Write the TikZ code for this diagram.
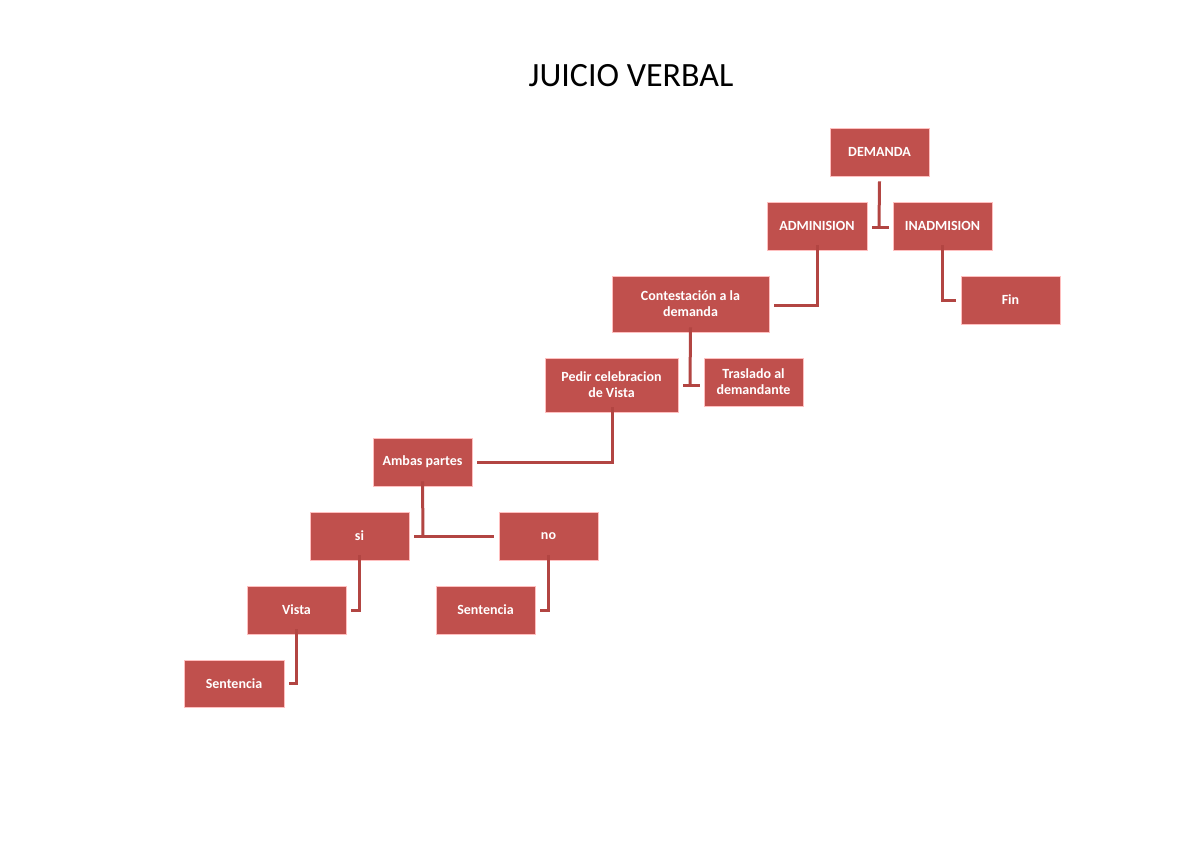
\documentclass[tikz,border=0pt]{standalone}
\usepackage{fontspec}
\setmainfont{Carlito}
\begin{document}
\begin{tikzpicture}[x=1pt,y=-1pt,
  box/.style={draw=red!25!white,line width=0.8pt,fill=boxc,text=white,font=\bfseries\fontsize{14}{16}\selectfont,align=center,inner sep=0pt},
  ln/.style={draw=linec,line width=3pt}]
\definecolor{boxc}{HTML}{C0504D}
\definecolor{linec}{HTML}{B24542}
\useasboundingbox[fill=white] (0,0) rectangle (1200,849);
\node[font=\fontsize{34}{40}\selectfont] (title) at (631,76) {JUICIO VERBAL};
\newcommand{\bx}[6]{\node[box,minimum width=#4-#2,minimum height=#5-#3] (#1) at ({(#2+#4)/2},{(#3+#5)/2}) {#6};}
\bx{dem}{830}{128}{929}{176}{DEMANDA}
\bx{adm}{767}{202}{867}{250}{ADMINISION}
\bx{inad}{893}{202}{992}{250}{INADMISION}
\bx{cont}{612}{276}{769}{332}{Contestación a la\\demanda}
\bx{fin}{961}{276}{1060}{324}{Fin}
\bx{ped}{545}{358}{678}{412}{Pedir celebracion\\de Vista}
\bx{tras}{704}{358}{803}{406}{Traslado al\\demandante}
\bx{amb}{373}{438}{472}{486}{Ambas partes}
\bx{si}{310}{512}{409}{560}{si}
\bx{no}{499}{512}{598}{560}{no}
\bx{vis}{247}{586}{346}{634}{Vista}
\bx{sen1}{184}{660}{284}{707}{Sentencia}
\bx{sen2}{436}{586}{535}{634}{Sentencia}
\coordinate (j1) at (879,227);
\draw[ln] (dem.south) ++(0,5) -- (j1);
\draw[ln] ([xshift=5pt]adm.east |- j1) -- ([xshift=-4pt]inad.west |- j1);
\draw[ln] ([yshift=5pt]adm.south) |- ([xshift=5pt]cont.east |- 0,305);
\draw[ln] ([yshift=5pt]inad.south) |- ([xshift=-5pt]fin.west);
\coordinate (j2) at (690,385);
\draw[ln] ([yshift=5pt]cont.south) -- (j2);
\draw[ln] ([xshift=5pt]ped.east |- j2) -- ([xshift=-4pt]tras.west |- j2);
\draw[ln] ([yshift=5pt]ped.south -| 612,0) |- ([xshift=5pt]amb.east |- 0,462);
\coordinate (j3) at (423,536);
\draw[ln] ([yshift=5pt]amb.south) -- (j3);
\draw[ln] ([xshift=5pt]si.east) -- ([xshift=-5pt]no.west);
\draw[ln] ([yshift=5pt]si.south) |- ([xshift=5pt]vis.east);
\draw[ln] ([yshift=5pt]no.south) |- ([xshift=5pt]sen2.east);
\draw[ln] ([yshift=5pt]vis.south) |- ([xshift=5pt]sen1.east);
\end{tikzpicture}
\end{document}
